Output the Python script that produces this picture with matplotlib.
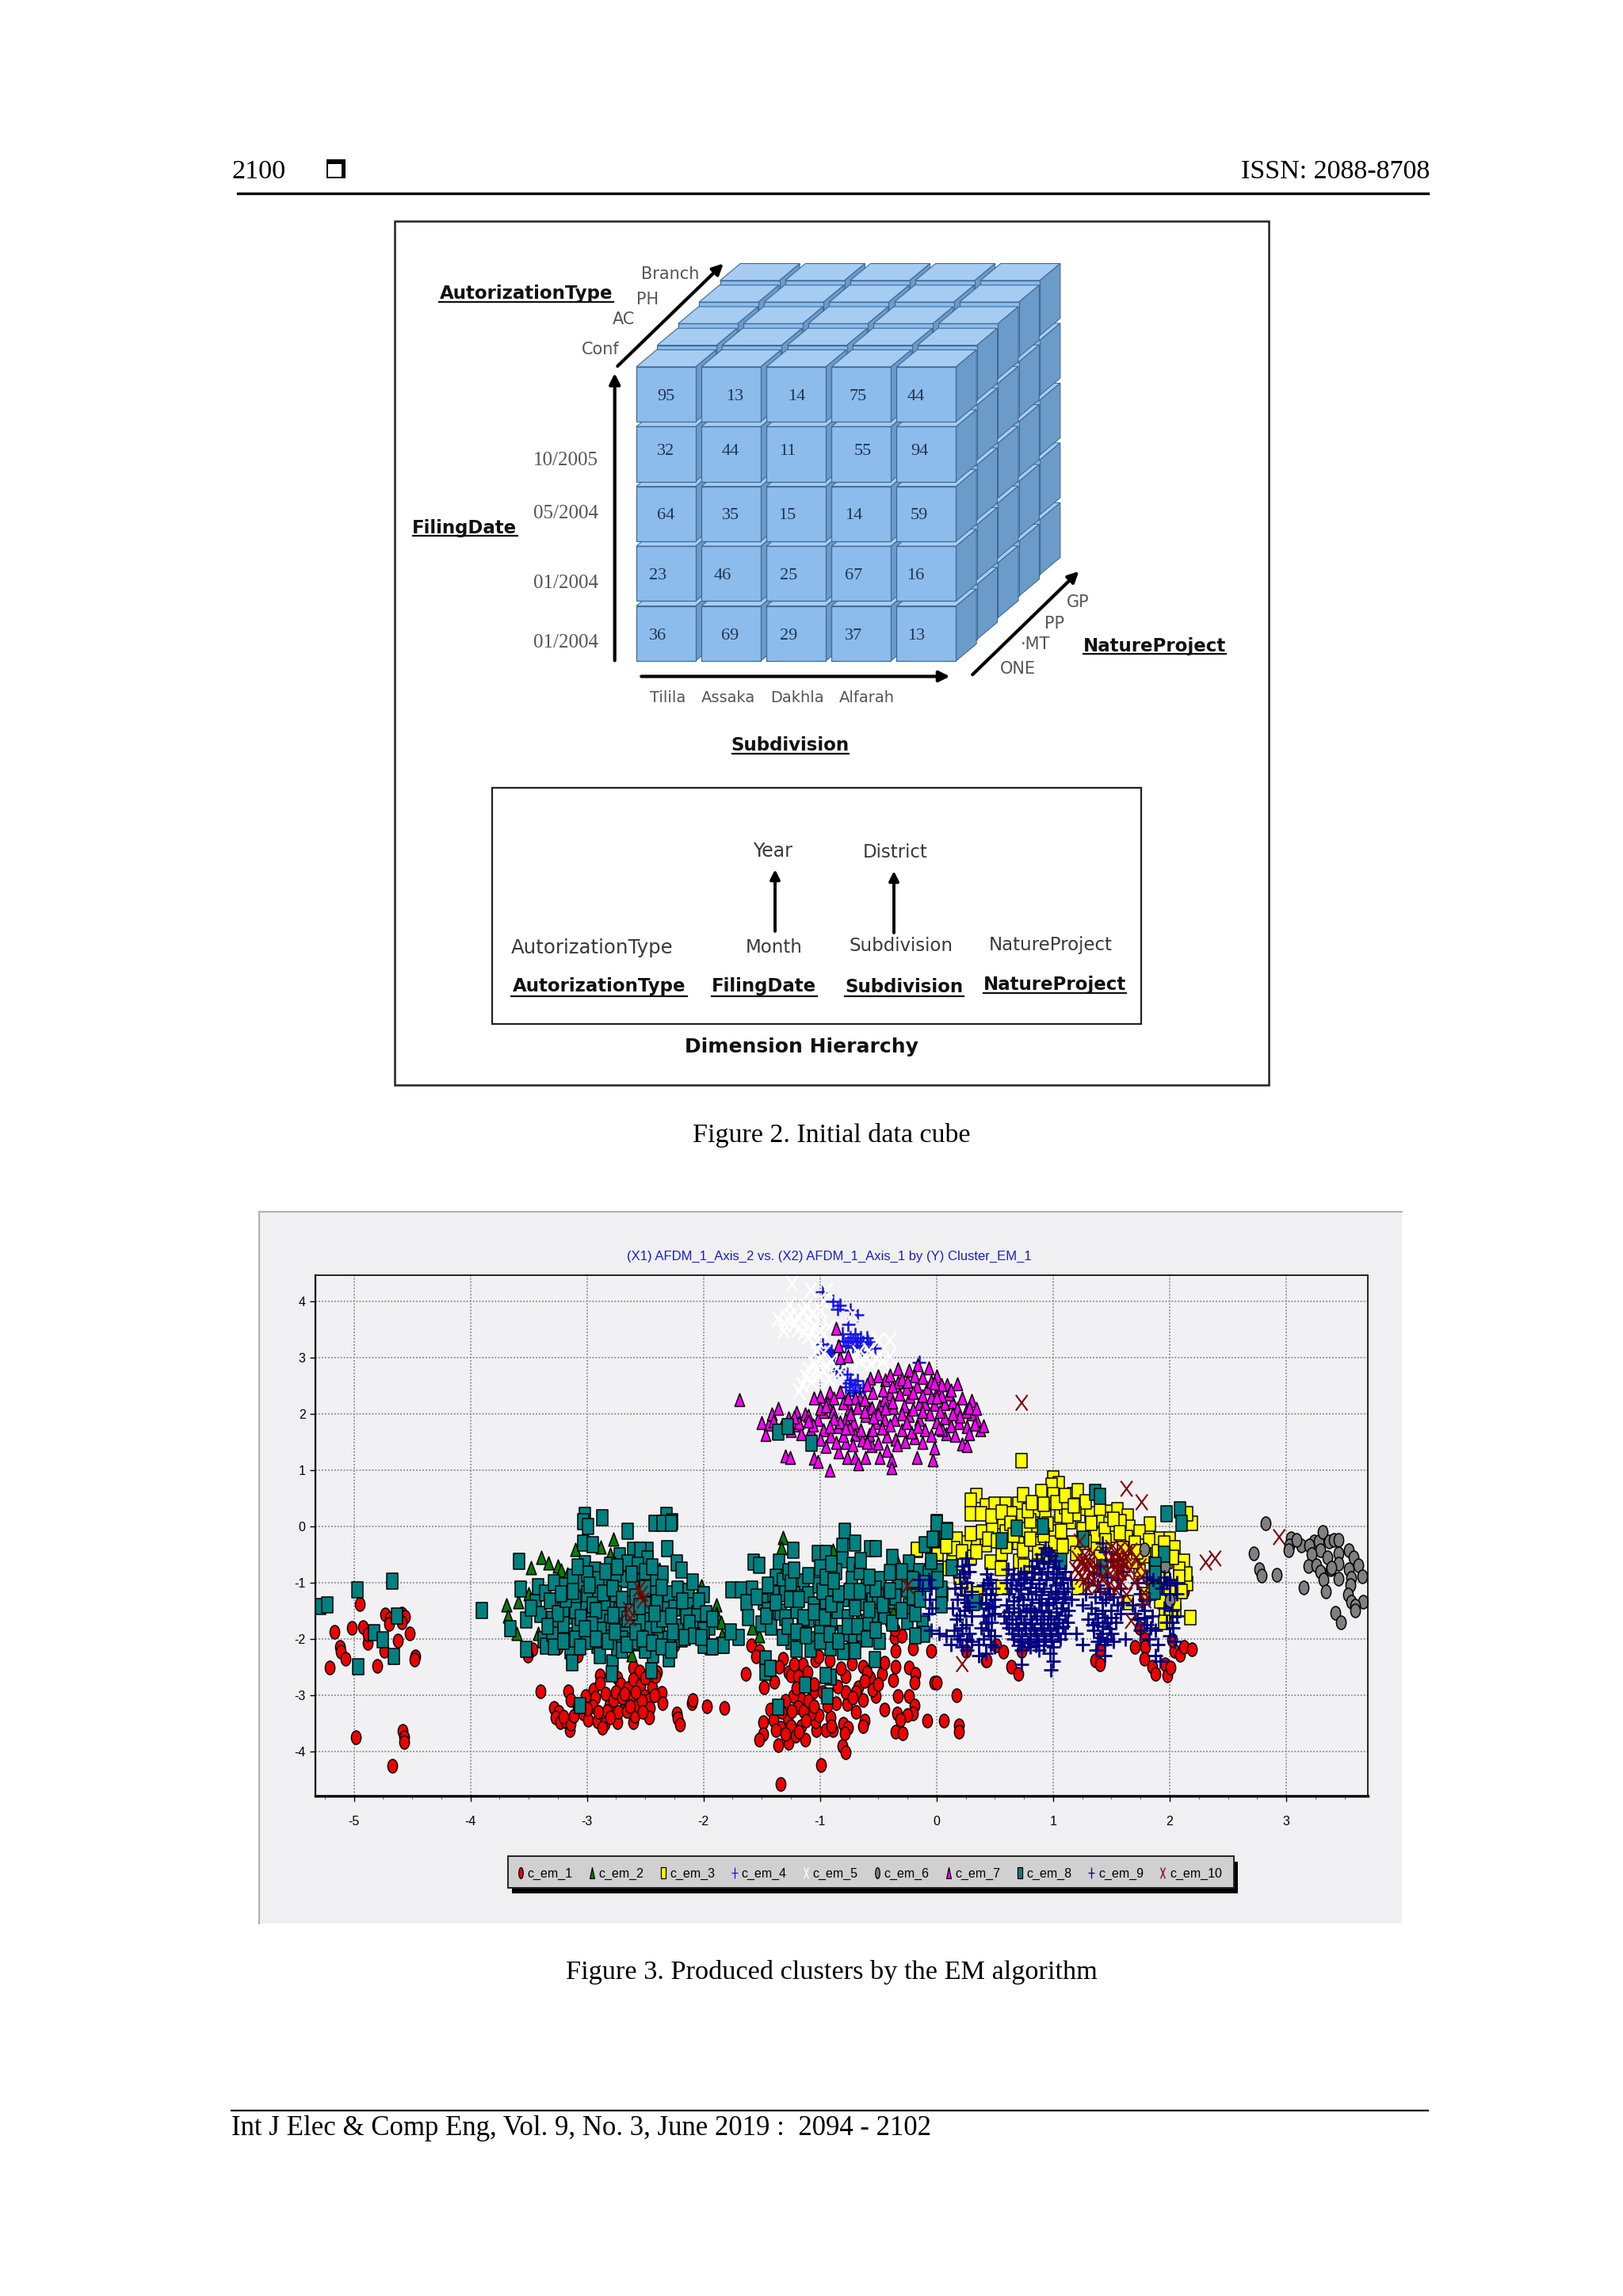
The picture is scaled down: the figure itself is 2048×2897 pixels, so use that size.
import numpy as np
import matplotlib
matplotlib.use('Agg')
import matplotlib.pyplot as plt
from matplotlib.lines import Line2D
from matplotlib.patches import Polygon, Rectangle
from matplotlib.path import Path

W, H = 2048, 2897
plt.rcParams['axes.unicode_minus'] = False

# --- figure 2: cube values and labels
cube_values = [[95, 13, 14, 75, 44],
               [32, 44, 11, 55, 94],
               [64, 35, 15, 14, 59],
               [23, 46, 25, 67, 16],
               [36, 69, 29, 37, 13]]
subdivisions = ['Tilila', 'Assaka', 'Dakhla', 'Alfarah']
dates = ['10/2005', '05/2004', '01/2004', '01/2004']
auth_types = ['Branch', 'PH', 'AC', 'Conf']
projects = ['GP', 'PP', '\u00b7MT', 'ONE']

# --- figure 3: one (x, y) list per cluster
c_em_1 = [(-4.95,-1.38),(-4.73,-1.57),(-4.69,-1.64),(-4.70,-1.74),(-4.59,-1.55),(-4.56,-1.61),(-4.59,-1.71),
 (-5.17,-1.87),(-5.02,-1.80),(-4.92,-1.79),(-4.52,-1.90),(-4.62,-2.03),(-4.88,-2.07),(-4.88,-1.92),(-5.12,-2.15),
 (-5.11,-2.23),(-5.07,-2.36),(-4.74,-2.21),(-4.47,-2.31),(-4.48,-2.37),(-4.80,-2.48),(-5.21,-2.51),(-4.98,-3.75),
 (-4.58,-3.64),(-4.57,-3.75),(-4.57,-3.83),(-4.67,-4.26),
 (-3.40,-2.94),(-3.28,-3.23),(-3.24,-3.30),(-3.27,-3.40),(-3.23,-3.49),(-3.16,-2.93),(-3.14,-3.09),(-3.18,-3.47),
 (-3.15,-3.63),(-3.14,-3.51),(-3.11,-3.37),(-3.01,-3.02),(-3.03,-3.33),(-2.99,-3.44),(-2.94,-2.91),(-2.93,-3.05),
 (-2.89,-2.65),(-2.89,-2.79),(-2.84,-2.98),(-2.91,-3.47),(-2.85,-3.51),(-2.87,-3.58),(-2.81,-3.19),(-2.77,-3.09),
 (-2.74,-2.70),(-2.71,-2.81),(-2.75,-2.95),(-2.77,-3.33),(-2.74,-3.49),(-2.67,-3.16),(-2.65,-2.88),(-2.60,-2.51),
 (-2.55,-2.58),(-2.60,-2.72),(-2.54,-2.84),(-2.60,-3.49),(-2.59,-3.37),(-2.51,-3.02),(-2.47,-3.09),(-2.46,-3.23),
 (-2.47,-3.40),(-2.44,-2.86),(-2.40,-2.60),(-2.41,-2.67),(-2.36,-2.96),(-2.35,-3.14),(-2.23,-3.33),(-2.22,-3.42),
 (-2.20,-3.53),(-2.10,-3.14),(-2.09,-3.09),(-1.97,-3.20),(-1.82,-3.23),(-2.83,-3.28),(-2.60,-3.05),(-2.73,-3.30),
 (-2.56,-3.19),(-3.47,-2.18),(-3.51,-2.30),(-3.25,-2.16),(-3.08,-2.30),(-2.25,-2.11),
 (-2.95,-3.20),(-2.90,-3.30),(-2.70,-3.05),(-2.66,-3.28),(-2.63,-3.20),(-2.53,-3.10),(-2.68,-2.98),(-2.58,-2.95),
 (-2.50,-2.70),(-3.08,-3.20),(-3.20,-3.38),(-3.00,-3.25),(-2.80,-3.40),(-2.52,-3.30),(-2.42,-3.00),
 (-1.59,-2.12),(-1.52,-2.21),(-1.55,-2.32),(-1.64,-2.63),(-1.48,-2.86),(-1.39,-2.77),(-1.32,-2.35),(-1.27,-2.60),
 (-1.25,-2.65),(-1.19,-2.67),(-1.15,-2.46),(-1.11,-2.60),(-1.04,-2.39),(-1.01,-2.32),(-0.92,-2.39),(-0.78,-2.67),
 (-0.73,-2.44),(-0.63,-2.49),(-0.57,-2.70),(-0.47,-2.63),(-0.45,-2.42),(-0.375,-2.74),(-0.35,-2.49),(-0.35,-2.21),
 (-0.36,-1.97),(-0.30,-1.94),(-0.40,-1.71),(-0.36,-1.83),(-0.20,-2.17),(-0.05,-2.22),(-0.24,-2.51),(-0.18,-2.63),
 (-0.19,-2.78),(-0.02,-2.78),(0.0,-2.78),(0.17,-3.0),(-0.33,-3.02),(-0.24,-3.02),(-0.19,-3.19),(-0.20,-3.33),
 (-0.25,-3.35),(-0.34,-3.33),(-0.31,-3.44),(-0.35,-3.65),(-0.29,-3.68),(-0.45,-3.26),(-0.08,-3.45),(0.06,-3.45),
 (0.19,-3.54),(0.19,-3.65),(-0.52,-3.02),(-0.63,-3.09),(-0.69,-3.30),(-0.62,-3.46),(-0.63,-3.56),(-0.77,-3.16),
 (-0.78,-2.95),(-0.67,-2.86),(-0.55,-2.90),(-0.69,-2.95),(-0.86,-3.14),(-0.91,-3.40),(-0.80,-3.51),(-0.76,-3.58),
 (-0.79,-3.68),(-0.89,-3.62),(-0.95,-3.62),(-1.03,-3.62),(-1.04,-3.47),(-1.01,-3.35),(-1.08,-3.33),(-1.06,-2.95),
 (-1.16,-3.07),(-1.23,-3.02),(-1.19,-3.21),(-1.14,-3.28),(-1.28,-3.40),(-1.43,-3.26),(-1.49,-3.48),(-1.40,-3.44),
 (-1.34,-3.58),(-1.25,-3.56),(-1.16,-3.56),(-1.49,-3.70),(-1.52,-3.79),(-1.36,-3.89),(-1.27,-3.85),(-1.21,-3.72),
 (-1.13,-3.79),(-0.81,-3.90),(-0.78,-4.02),(-0.99,-4.24),(-1.34,-4.59),(-0.94,-3.19),(-1.24,-3.28),(-1.38,-3.63),
 (-1.30,-3.10),(-1.10,-3.10),(-1.05,-2.80),(-0.98,-2.95),(-1.20,-2.88),(-1.12,-3.45),(-1.33,-3.30),(-0.85,-2.85),
 (-0.90,-2.70),(-0.72,-3.05),(-0.60,-2.60),(-0.50,-2.80),(-1.18,-3.65),(-1.30,-3.70),(-0.90,-3.55),(-1.05,-3.20),
 (-0.82,-2.52),(-0.62,-2.75),(-1.35,-2.50),(-1.22,-2.45),
 (0.25,-2.21),(0.42,-2.39),(0.43,-2.39),(0.64,-2.49),(0.70,-2.62),(0.73,-2.21),(0.51,-2.11),(0.57,-2.23),
 (1.36,-2.39),(1.40,-2.46),(1.70,-2.14),(1.78,-2.0),(1.79,-2.14),(1.78,-2.36),(1.85,-2.49),(1.88,-2.63),
 (1.96,-2.46),(1.98,-2.65),(2.01,-2.51),(2.04,-2.21),(2.09,-2.28),(2.12,-2.14),(2.19,-2.19),(2.02,-2.02),
 (1.74,-1.81),(1.40,-2.2),(2.12,-1.15)]

c_em_2 = [(-3.39,-0.55),(-3.48,-0.73),(-3.33,-0.65),(-3.25,-0.71),(-3.22,-0.78),(-3.17,-0.85),(-2.77,-0.23),(-2.88,-0.36),
 (-3.10,-0.41),(-2.80,-0.50),(-3.69,-1.39),(-3.68,-1.59),(-3.59,-1.34),(-3.60,-1.90),(-3.50,-1.20),(-1.89,-1.39),
 (-1.89,-1.55),(-1.85,-1.71),(-1.84,-1.93),(-2.02,-1.06),(-2.31,-1.97),(-2.29,-2.02),(-2.38,-0.76),(-2.45,-0.83),
 (-2.38,-1.13),(-2.62,-2.28),(-2.51,-2.21),(-3.42,-1.90),(-1.32,-0.20),(-1.33,-0.38),(-0.89,-0.43),(-0.34,-0.62),
 (-0.375,-1.53),(-0.68,-1.67),(-1.58,-1.81),(-1.52,-1.95)]

c_em_3 = [(0.73,1.17),(1.0,0.86),(1.05,0.76),(0.99,0.74),(0.90,0.62),(1.0,0.57),(1.17,0.57),(1.21,0.64),(0.34,0.55),
 (0.29,0.46),(0.29,0.22),(0.42,0.36),(0.50,0.39),(0.59,0.39),(0.70,0.39),(0.74,0.57),(0.86,0.29),(0.93,0.20),
 (1.06,0.20),(1.23,0.32),(1.32,0.22),(1.49,0.25),(1.55,0.29),(1.64,0.18),(1.42,0.13),(1.28,0.43),(1.65,-0.01),
 (1.83,0.04),(1.91,-0.23),(2.0,-0.22),(2.04,-0.38),(2.12,-0.62),(2.15,-1.01),(2.14,-0.85),(2.18,-1.62),(1.96,-1.55),
 (2.05,-1.50),(2.19,0.06),(2.15,0.22),(0.54,0.08),(0.71,0.18),(1.14,0.08),(0.99,-0.10),(0.70,-0.28),(0.42,-0.33),
 (0.33,-0.27),(0.25,-0.29),(0.17,-0.23),(0.39,-0.10),(0.29,-0.13),(-0.17,-0.42),(0.0,-0.50),(0.14,-0.57),(0.29,-0.55),
 (0.46,-0.64),(0.56,-0.48),(0.71,-0.62),(0.84,-0.31),(0.85,-0.01),(1.17,-0.29),(1.36,-0.38),(1.25,-0.06),(1.50,-0.15),
 (1.63,-0.20),(1.74,-0.10),(1.79,-0.52),(1.87,-0.66),(1.97,-0.62),(2.08,-0.76),(0.25,-1.11),(0.20,-0.90),(0.56,-1.08),
 (1.21,-1.08),(1.64,-1.36),(1.92,-1.32),(0.05,-1.20),(1.06,-0.62),(1.19,0.22),(0.64,0.22),(0.77,-0.06),(0.95,0.04),
 (1.37,-0.15),(1.48,0.04),(1.58,0.08),(0.59,-0.10),(0.48,-0.01),(0.87,-0.45),(1.01,-0.29),(1.79,-1.22),(1.74,-0.80),
 (2.05,-1.36),(2.08,-0.90),(1.68,-0.62),(-0.17,-0.41),(0.01,-0.48),(1.10,0.35),(0.80,0.10),(0.60,-0.35),(0.15,-0.40),
 (1.40,-0.55),(1.95,-0.95),(0.35,-1.20),(0.10,-0.75),(1.85,-1.05),(1.60,-0.40),(0.95,-0.55),
 (0.38,0.22),(0.47,0.18),(0.56,0.25),(0.63,0.05),(0.78,0.28),(0.82,0.42),(0.92,0.40),(1.03,0.42),(1.10,0.55),(1.12,0.18),
 (1.18,0.36),(1.33,0.05),(1.40,0.32),(1.44,-0.05),(1.52,0.12),(1.57,-0.12),(1.70,-0.30),(1.82,-0.25),(0.34,-0.45),
 (0.44,-0.22),(0.52,-0.25),(0.66,-0.15),(0.74,-0.42),(0.80,-0.22),(0.92,-0.15),(1.07,-0.08),(1.08,-0.35),(1.20,-0.48),
 (1.28,-0.28),(1.45,-0.25),(1.90,-0.45),(1.95,-0.30),(2.03,-0.55),(2.10,-1.15),(2.00,-1.10),(1.88,-0.85),(1.95,-1.70),
 (0.08,-0.35),(0.22,-0.45),(-0.05,-0.68),(0.55,-0.75),(0.75,-0.70),(1.55,-0.60),(1.72,-0.45)]

c_em_4 = [(-0.98,4.18),(-0.89,4.01),(-0.83,3.94),(-0.74,3.85),(-0.68,3.76),(-0.76,3.59),(-0.65,3.36),(-0.74,3.36),
 (-0.60,3.36),(-0.69,3.22),(-0.78,3.22),(-0.53,3.17),(-0.92,3.08),(-0.99,3.06),(-0.98,3.24),(-0.83,2.80),(-0.74,2.61),
 (-0.72,2.43),(-0.63,2.47),(-0.75,2.33),(-0.15,2.92),(-0.81,3.43),(-0.85,3.87),(-0.59,3.29),(-0.66,3.22),(-0.94,3.15),
 (-0.86,2.75),(-0.77,2.71),
 (-0.72,3.30),(-0.70,3.42),(-0.76,3.28),(-0.63,3.28),(-0.68,3.30),(-0.72,3.18),(-0.80,3.30),(-0.84,3.10),(-0.90,3.12),
 (-0.88,3.02),(-0.70,2.52),(-0.68,2.60),(-0.75,2.55),(-0.66,2.40),(-0.78,2.48),(-0.70,2.38),(-0.64,3.10),(-0.57,3.24)]

c_em_5 = [(-1.24,4.32),(-1.08,4.20),(-0.94,4.20),(-1.26,3.94),(-1.12,3.92),(-1.36,3.69),(-1.28,3.69),(-1.19,3.73),
 (-1.31,3.48),(-1.19,3.50),(-1.09,3.69),(-1.10,3.38),(-0.99,3.83),(-0.97,4.01),(-0.92,3.55),(-1.03,3.13),(-1.05,2.89),
 (-0.94,2.85),(-1.12,2.66),(-1.15,2.52),(-1.18,2.40),(-1.07,2.57),(-0.92,2.61),(-0.65,2.94),(-0.51,2.99),(-0.40,3.31),
 (-0.50,3.31),(-0.40,3.03),(-0.76,2.94),(-0.56,2.89),(-0.67,3.08),(-0.83,2.75),(-0.97,3.08),(-0.72,3.78),(-0.58,3.13),
 (-1.22,3.60),(-1.15,3.62),(-1.05,3.55),(-1.02,3.30),(-1.00,2.70),
 (-1.30,3.60),(-1.25,3.75),(-1.14,3.82),(-1.06,3.80),(-1.02,3.66),(-0.99,3.48),(-1.00,2.95),(-1.04,2.75),(-1.10,2.80),
 (-0.97,2.78),(-0.90,2.95),(-0.82,2.92),(-0.72,3.00),(-0.60,2.98),(-0.46,2.95),(-1.14,3.45),(-1.06,3.45)]

c_em_6 = [(2.82,0.05),(2.72,-0.48),(2.77,-0.76),(2.79,-0.87),(2.92,-0.86),(3.15,-1.08),(3.04,-0.21),(3.03,-0.34),
 (3.02,-0.43),(3.13,-0.34),(3.09,-0.24),(3.24,-0.27),(3.28,-0.27),(3.31,-0.10),(3.37,-0.27),(3.41,-0.24),(3.45,-0.24),
 (3.20,-0.34),(3.29,-0.43),(3.22,-0.50),(3.35,-0.55),(3.45,-0.48),(3.54,-0.43),(3.58,-0.55),(3.62,-0.69),(3.19,-0.70),
 (3.26,-0.69),(3.29,-0.81),(3.32,-0.95),(3.38,-0.76),(3.45,-0.66),(3.45,-0.93),(3.34,-1.15),(3.54,-0.76),(3.56,-0.92),
 (3.65,-0.89),(3.55,-1.04),(3.53,-1.21),(3.56,-1.34),(3.66,-1.34),(3.59,-1.41),(3.59,-1.50),(3.42,-1.54),(3.47,-1.70),
 (3.39,-0.74),(1.78,-0.41),(1.81,-0.92),(1.96,-0.71),(2.0,-1.31)]

c_em_7 = [(-1.69,2.25),(-0.86,3.52),(-0.83,3.01),(-0.76,3.03),(-0.84,3.22),(-1.50,1.84),(-1.44,1.82),(-1.47,1.64),
 (-1.41,2.0),(-1.36,2.10),(-1.27,1.93),(-1.20,2.03),(-1.13,2.0),(-1.10,1.98),(-1.16,1.65),(-1.30,1.26),(-1.26,1.23),
 (-1.05,1.21),(-1.02,1.16),(-0.92,1.0),(-0.84,1.33),(-0.77,1.23),(-0.70,1.23),(-0.67,1.12),(-0.61,1.23),(-0.49,1.23),
 (-0.39,1.19),(-0.39,1.05),(-0.43,1.35),(-0.56,1.44),(-0.17,1.22),(-0.03,1.19),(-0.02,1.40),(0.22,1.47),(0.26,1.44),
 (0.08,1.65),(0.375,1.72),(0.40,1.79),(0.34,1.91),(0.30,2.24),(0.18,2.54),(0.09,2.52),(0.0,2.68),(-0.07,2.82),
 (-0.16,2.87),(-0.24,2.78),(-0.33,2.80),(-0.44,2.61),(-0.57,2.64),(-0.50,2.68),(-0.55,2.38),(-0.66,2.29),(-0.70,2.29),
 (-0.83,2.40),(-0.92,2.38),(-1.0,2.31),(-1.05,2.29),(-0.97,2.05),(-0.89,2.05),(-1.02,1.91),(-0.97,1.72),(-0.91,1.61),
 (-0.85,1.77),(-0.78,1.91),(-0.71,1.84),(-0.61,1.98),(-0.45,1.91),(-0.36,1.91),(-0.24,1.98),(-0.10,1.72),(-0.27,1.51),
 (-0.19,1.58),(-0.43,1.61),(-0.58,1.63),(-0.70,1.63),(-0.64,1.54),(-0.78,1.49),(-0.95,1.42),(-0.40,2.36),(-0.23,2.31),
 (-0.33,2.57),(-0.17,2.50),(-0.19,2.68),(0.01,2.43),(-0.02,2.17),(0.07,2.19),(0.14,2.21),(0.18,2.10),(0.07,1.93),
 (0.19,1.84),(0.12,1.79),(0.0,1.86),(0.26,1.77),(-0.375,2.12),(-0.49,2.14),(-0.15,2.19),(-0.10,2.19),(0.30,2.0),
 (-0.08,2.47),(-0.28,2.14),(-0.58,2.10),(-0.83,1.86),(-1.08,1.72),(-1.22,1.80),(-0.52,1.85),(-0.30,1.72),(-0.15,1.90),
 (0.10,2.35),(0.25,2.05),(-0.45,2.25),(-0.75,2.10),(-0.55,1.72),(-0.38,2.50),(-0.80,1.62),(0.03,2.05),
 (-1.40,1.88),(-1.33,1.78),(-1.25,1.70),(-1.18,1.85),(-1.06,1.80),(-1.00,2.10),(-0.94,2.20),(-0.88,2.28),(-0.80,2.20),
 (-0.74,2.00),(-0.68,2.12),(-0.62,2.25),(-0.56,2.12),(-0.50,2.00),(-0.44,2.10),(-0.38,2.22),(-0.32,2.35),(-0.26,2.45),
 (-0.20,2.38),(-0.12,2.32),(-0.05,2.30),(0.04,2.32),(0.12,2.42),(0.22,2.28),(0.28,2.12),(0.34,2.10),(0.20,1.96),
 (0.14,2.00),(0.05,1.72),(-0.06,2.00),(-0.12,2.05),(-0.20,2.08),(-0.30,2.00),(-0.40,1.80),(-0.47,1.75),(-0.54,1.95),
 (-0.65,1.72),(-0.75,1.75),(-0.88,1.92),(-0.92,1.78),(-1.00,1.55),(-0.86,1.50),(-0.72,1.45),(-0.60,1.50),(-0.50,1.48),
 (-0.35,1.55),(-0.22,1.68),(-0.12,1.50),(-0.05,1.62),(0.02,1.75),(0.16,1.62),(0.28,1.65),(0.33,1.82),(-0.30,2.62),
 (-0.25,2.58),(-0.12,2.65),(-0.05,2.58),(0.04,2.52),(-0.40,2.70),(-0.46,2.42),(-0.60,2.52),(-0.76,2.28),(-0.95,2.15),
 (-1.10,1.88),(-1.22,1.95),(0.00,2.30),(-0.02,2.55),(-0.26,1.85),(-0.16,1.78),(-0.34,1.45),(-0.62,2.05),(-0.78,1.75)]

c_em_8 = [(-5.29,-1.43),(-5.23,-1.39),(-4.97,-1.13),(-4.67,-0.98),(-4.63,-1.59),(-4.83,-1.89),(-4.75,-2.02),(-4.66,-2.31),
 (-4.96,-2.50),(-3.90,-1.50),
 (-3.02,0.20),(-3.03,0.09),(-2.87,0.16),(-2.99,0.0),(-2.32,0.2),(-2.42,0.06),(-2.35,0.06),(-2.27,0.08),(-2.28,0.06),
 (-2.65,-0.09),(-3.03,-0.29),(-2.95,-0.33),(-2.31,-0.39),(-2.23,-0.65),(-2.19,-0.78),(-2.6,-0.43),(-2.48,-0.43),
 (-2.54,-0.43),(-2.48,-0.58),(-2.72,-0.52),(-3.02,-0.66),(-2.93,-0.78),(-2.80,-0.69),(-2.65,-0.65),(-2.56,-0.69),
 (-2.35,-0.85),(-3.58,-0.62),(-3.57,-1.11),
 (-3.66,-1.82),(-3.52,-2.18),(-3.52,-1.67),(-3.37,-2.02),(-3.35,-2.13),(-3.44,-1.36),(-3.42,-1.07),(-3.36,-1.18),
 (-3.40,-1.57),(-3.25,-1.32),(-3.19,-1.06),(-3.06,-0.99),(-3.23,-1.86),(-3.14,-2.21),(-3.13,-2.42),(-3.14,-1.60),
 (-3.13,-1.95),(-3.03,-1.46),(-2.98,-1.93),(-2.91,-2.11),(-2.89,-2.30),(-2.78,-2.42),(-2.79,-2.63),(-2.96,-1.60),
 (-2.90,-1.18),(-2.83,-0.99),(-2.81,-1.46),(-2.85,-1.92),(-2.74,-2.16),(-2.67,-1.81),(-2.65,-1.36),(-2.69,-0.94),
 (-2.57,-0.99),(-2.44,-0.99),(-2.44,-1.20),(-2.49,-1.60),(-2.49,-1.83),(-2.57,-2.07),(-2.45,-2.56),(-2.43,-2.28),
 (-2.30,-2.35),(-2.38,-1.92),(-2.34,-1.46),(-2.30,-1.20),(-2.21,-1.25),(-2.13,-1.15),(-2.09,-0.99),(-2.0,-1.22),
 (-2.20,-1.79),(-2.13,-1.86),(-2.06,-1.69),(-1.95,-1.79),(-1.94,-2.14),(-1.84,-2.11),(-2.0,-2.11),(-2.19,-2.0),
 (-2.10,-1.41),(-3.06,-3.19),(-3.2,-1.5),(-3.1,-1.3),(-3.0,-1.2),(-2.95,-1.4),(-2.87,-1.6),(-2.75,-1.2),(-2.72,-1.5),
 (-2.6,-1.1),(-2.55,-1.7),(-2.7,-2.0),(-2.8,-1.7),(-3.08,-1.75),(-3.2,-1.75),(-3.0,-2.05),(-2.6,-2.05),(-2.5,-2.2),
 (-2.4,-1.75),(-2.35,-1.65),(-2.25,-1.45),(-2.15,-1.6),(-2.05,-1.55),(-2.0,-1.85),(-2.3,-2.0),(-2.9,-0.95),(-3.0,-0.85),
 (-2.75,-0.85),(-2.62,-0.85),(-2.5,-0.8),(-3.12,-0.9),(-3.28,-1.0),(-2.4,-1.35),(-2.85,-1.35),(-2.65,-1.65),(-3.3,-1.9),
 (-3.1,-2.0),(-2.88,-1.85),(-2.7,-2.2),(-2.5,-1.4),(-3.3,-1.65),(-3.1,-1.5),(-2.58,-1.25),
 (-3.32,-1.32),(-3.25,-1.55),(-3.18,-1.30),(-3.12,-1.15),(-3.05,-1.62),(-2.98,-1.05),(-2.92,-1.50),(-2.86,-1.18),
 (-2.78,-1.10),(-2.77,-1.58),(-2.70,-1.30),(-2.62,-1.52),(-2.55,-1.42),(-2.50,-1.10),(-2.42,-1.55),(-2.36,-1.08),
 (-2.28,-1.60),(-2.22,-1.12),(-2.18,-1.32),(-2.12,-1.72),(-2.04,-1.32),(-1.98,-1.55),(-1.92,-1.65),(-3.28,-2.15),
 (-3.20,-2.05),(-3.06,-2.15),(-2.96,-1.75),(-2.92,-2.00),(-2.82,-2.05),(-2.76,-1.88),(-2.66,-2.10),(-2.58,-1.88),
 (-2.52,-2.00),(-2.44,-2.08),(-2.36,-2.14),(-2.26,-1.88),(-2.28,-2.20),(-2.16,-1.98),(-2.08,-1.95),(-2.02,-1.98),
 (-3.48,-1.45),(-3.34,-1.78),(-3.22,-1.20),(-3.02,-1.82),(-2.84,-0.80),(-3.08,-0.72),(-2.74,-0.72),(-2.44,-0.72),
 (-0.79,-0.08),(-0.81,-0.35),(-0.70,-0.29),(-1.57,-0.64),(-1.52,-0.69),(-1.35,-0.64),(-1.23,-0.42),(-1.02,-0.48),
 (-0.95,-0.48),(-0.81,-0.59),(-0.72,-0.69),(-0.57,-0.39),(-0.52,-0.39),(-0.38,-0.55),(-0.24,-0.65),(-0.10,-0.33),
 (-0.02,-0.24),(0.0,0.07),(0.09,-0.07),(-1.76,-1.13),(-1.68,-1.13),(-1.58,-1.11),(-1.63,-1.36),(-1.48,-1.34),
 (-1.62,-1.62),(-1.50,-1.74),(-1.42,-1.79),(-1.34,-1.53),(-1.38,-0.90),(-1.32,-0.97),(-1.27,-0.80),(-1.14,-0.99),
 (-1.22,-1.22),(-1.10,-1.22),(-1.01,-1.04),(-1.0,-0.73),(-0.86,-0.80),(-0.73,-0.94),(-0.95,-1.32),(-0.80,-1.29),
 (-0.60,-1.08),(-0.48,-0.94),(-0.33,-0.97),(-0.15,-0.80),(-0.07,-0.84),(0.01,-0.80),(0.04,-1.11),(-0.25,-1.11),
 (-0.14,-1.15),(-0.55,-1.32),(-0.41,-1.32),(-0.24,-1.43),(-0.25,-1.69),(-0.12,-1.74),(-0.11,-1.92),(-0.18,-1.95),
 (-0.55,-1.60),(-0.72,-1.93),(-0.64,-1.90),(-0.49,-2.04),(-0.70,-2.21),(-0.80,-2.23),(-0.91,-2.16),(-1.05,-2.02),
 (-0.99,-1.76),(-0.90,-1.71),(-1.15,-1.79),(-1.24,-2.04),(-1.32,-1.97),(-1.20,-2.18),(-1.08,-2.18),(-1.47,-2.35),
 (-1.47,-2.60),(-1.43,-2.53),(-0.91,-2.68),(-0.95,-2.65),(-1.13,-2.82),(-0.94,-3.02),(-1.36,-3.21),(-0.53,-2.37),
 (-1.70,-1.98),(-1.83,-2.11),(-1.77,-1.88),(-1.92,-2.14),(-1.3,-1.2),(-1.2,-1.5),(-1.05,-1.4),(-0.9,-1.1),(-0.75,-1.15),
 (-0.65,-1.35),(-0.6,-1.7),(-0.85,-1.5),(-1.1,-1.65),(-1.0,-1.9),(-0.8,-1.9),(-0.5,-1.25),(-0.35,-1.25),(-0.45,-1.6),
 (-1.4,-1.2),(-1.45,-1.5),(-1.25,-1.0),
 (-1.54,-1.25),(-1.46,-1.60),(-1.38,-1.36),(-1.30,-1.62),(-1.26,-1.30),(-1.18,-1.30),(-1.14,-1.62),(-1.05,-1.52),
 (-0.98,-1.15),(-0.96,-1.62),(-0.90,-1.38),(-0.84,-1.20),(-0.76,-1.62),(-0.70,-1.45),(-0.66,-1.15),(-0.58,-1.48),
 (-0.52,-1.12),(-0.46,-1.40),(-0.40,-1.14),(-0.38,-1.72),(-0.30,-1.50),(-0.20,-1.25),(-0.18,-1.55),(-0.10,-1.02),
 (-1.28,-1.78),(-1.20,-1.88),(-1.12,-1.95),(-1.00,-2.05),(-0.92,-1.92),(-0.84,-2.05),(-0.76,-1.78),(-0.68,-1.78),
 (-0.60,-2.00),(-0.52,-1.85),(-1.10,-0.88),(-0.95,-0.90),(-0.88,-0.98),(-0.66,-0.80),(-0.58,-0.90),(-0.40,-0.82),
 (-1.22,-0.78),(-0.90,-0.66),(-0.65,-0.60),(-0.30,-0.80),(-1.45,-1.05),(-0.20,-0.95),
 (-1.36,1.68),(-1.28,1.77),(-1.07,1.48),
 (1.36,0.60),(1.40,0.53),(1.97,0.22),(2.09,0.29),(2.10,0.06),(0.0,0.06),(0.09,-0.08),(-0.03,-0.22),(0.91,0.0),
 (0.69,-0.03),(0.56,-0.26),(1.26,-0.22),(1.95,-0.49),(1.88,-0.69),(1.88,-0.85),(1.87,-1.15),(-0.05,-0.62),(0.01,-0.95),
 (0.04,-1.40),(-0.14,-1.30),(0.13,-0.73),(1.07,-0.62),(1.42,-0.73),(0.32,-1.36)]

c_em_9 = [(0.25,-0.57),(0.22,-0.7),(0.28,-0.8),(0.2,-0.9),(0.26,-1.0),(0.16,-1.1),(0.3,-1.15),(0.18,-1.3),(0.26,-1.35),
 (0.14,-1.45),(0.24,-1.5),(0.3,-1.6),(0.17,-1.65),(0.25,-1.75),(0.15,-1.85),(0.28,-1.9),(0.2,-2.0),(0.3,-2.05),
 (0.12,-2.1),(0.26,-2.2),(0.36,-2.3),(0.22,-2.15),
 (0.23,-0.85),(0.27,-0.68),(0.21,-1.08),(0.24,-1.22),(0.28,-1.42),(0.20,-1.58),(0.22,-1.80),(0.26,-2.02),(0.18,-1.95),
 (0.43,-0.85),(0.46,-0.95),(0.4,-1.05),(0.48,-1.1),(0.42,-1.2),(0.5,-1.3),(0.38,-1.35),(0.45,-1.45),(0.5,-1.55),
 (0.4,-1.6),(0.47,-1.7),(0.38,-1.8),(0.44,-1.85),(0.5,-1.95),(0.4,-2.0),(0.46,-2.1),(0.36,-2.1),(0.5,-2.15),(0.42,-2.25),
 (0.44,-1.00),(0.46,-1.22),(0.42,-1.38),(0.44,-1.58),(0.42,-1.72),(0.46,-1.95),(0.48,-1.42),
 (0.61,-0.76),(0.66,-0.85),(0.72,-0.85),(0.75,-0.8),(0.82,-0.7),(0.86,-0.6),(0.9,-0.5),(0.93,-0.38),(0.96,-0.45),
 (0.98,-0.52),(1.02,-0.6),(1.05,-0.75),(1.1,-0.8),(1.15,-0.95),(0.6,-1.0),(0.68,-1.05),(0.75,-1.0),(0.82,-0.95),
 (0.9,-0.85),(0.95,-0.8),(1.0,-0.9),(1.06,-1.0),(1.12,-1.1),(0.62,-1.2),(0.7,-1.25),(0.78,-1.2),(0.85,-1.15),(0.92,-1.1),
 (0.98,-1.15),(1.04,-1.2),(1.1,-1.25),(1.16,-1.3),(0.6,-1.4),(0.66,-1.45),(0.74,-1.4),(0.8,-1.45),(0.88,-1.35),
 (0.94,-1.4),(1.0,-1.35),(1.07,-1.45),(1.13,-1.5),(0.58,-1.6),(0.65,-1.65),(0.72,-1.6),(0.8,-1.65),(0.86,-1.6),
 (0.92,-1.65),(0.98,-1.6),(1.05,-1.65),(1.12,-1.7),(0.62,-1.8),(0.7,-1.85),(0.76,-1.8),(0.84,-1.85),(0.9,-1.8),
 (0.97,-1.85),(1.03,-1.8),(1.1,-1.9),(0.66,-2.0),(0.72,-2.05),(0.8,-2.0),(0.87,-2.05),(0.93,-2.0),(0.99,-2.05),
 (1.06,-2.0),(0.73,-2.2),(0.8,-2.15),(0.88,-2.2),(0.97,-2.25),(1.0,-2.4),(0.98,-2.55),(0.73,-2.45),
 (0.64,-0.95),(0.70,-0.95),(0.77,-0.90),(0.84,-0.82),(0.88,-0.75),(0.92,-0.65),(0.96,-0.62),(1.00,-0.72),(1.03,-0.85),
 (1.08,-0.92),(0.64,-1.10),(0.72,-1.12),(0.80,-1.08),(0.88,-1.02),(0.94,-0.95),(1.02,-1.05),(1.09,-1.15),(0.66,-1.32),
 (0.74,-1.30),(0.82,-1.30),(0.90,-1.22),(0.96,-1.28),(1.02,-1.28),(1.08,-1.35),(0.62,-1.52),(0.70,-1.52),(0.77,-1.50),
 (0.84,-1.52),(0.90,-1.50),(0.96,-1.52),(1.03,-1.52),(1.10,-1.58),(0.60,-1.72),(0.68,-1.74),(0.75,-1.70),(0.82,-1.74),
 (0.89,-1.72),(0.95,-1.74),(1.01,-1.72),(1.08,-1.78),(0.65,-1.90),(0.73,-1.94),(0.80,-1.90),(0.86,-1.94),(0.92,-1.90),
 (0.98,-1.95),(1.04,-1.90),(0.70,-2.12),(0.78,-2.08),(0.85,-2.12),(0.92,-2.12),(1.00,-2.15),
 (1.42,-0.3),(1.45,-0.45),(1.5,-0.6),(1.4,-0.7),(1.55,-0.7),(1.6,-0.8),(1.35,-0.85),(1.46,-0.9),(1.55,-0.95),(1.3,-1.0),
 (1.38,-1.05),(1.47,-1.1),(1.58,-1.1),(1.28,-1.2),(1.36,-1.25),(1.45,-1.3),(1.52,-1.25),(1.6,-1.35),(1.25,-1.4),
 (1.33,-1.45),(1.42,-1.5),(1.5,-1.5),(1.58,-1.55),(1.3,-1.65),(1.38,-1.7),(1.46,-1.7),(1.54,-1.7),(1.35,-1.85),
 (1.42,-1.9),(1.5,-1.9),(1.38,-2.05),(1.44,-2.1),(1.52,-2.05),(1.37,-2.2),(1.44,-2.3),(1.2,-1.9),(1.25,-2.1),(1.62,-2.0),
 (1.40,-1.15),(1.42,-1.35),(1.48,-1.20),(1.55,-1.40),(1.36,-1.55),(1.44,-1.62),(1.50,-1.62),(1.34,-1.75),(1.42,-1.78),
 (1.48,-1.82),(1.40,-1.98),(1.46,-2.00),
 (1.72,-1.0),(1.8,-0.9),(1.86,-0.95),(1.95,-0.9),(2.0,-0.95),(2.06,-1.0),(1.75,-1.2),(1.82,-1.3),(1.93,-1.1),(2.0,-1.2),
 (2.06,-1.2),(1.68,-1.4),(1.78,-1.5),(1.85,-1.6),(1.72,-1.65),(1.95,-1.45),(2.02,-1.5),(2.06,-1.6),(1.8,-1.75),
 (1.88,-1.85),(1.75,-1.85),(1.97,-1.7),(2.03,-1.8),(1.82,-2.0),(1.9,-2.1),(2.0,-1.95),(2.04,-2.05),(1.88,-2.3),
 (1.92,-2.4),(2.02,-1.7),(2.00,-1.05),(1.97,-1.00),(1.78,-1.62),(1.84,-1.80),(1.76,-1.38),(1.70,-1.55),
 (-0.05,-1.85),(0.02,-1.9),(0.08,-1.95),(-0.15,-0.95),(-0.12,-1.1),(-0.07,-0.95),(-0.05,-1.1),(-0.06,-1.3),(-0.04,-1.45),
 (-0.07,-1.55)]

c_em_10 = [(1.63,0.67),(1.76,0.43),(2.31,-0.64),(2.39,-0.57),(2.94,-0.19),(0.22,-2.45),(1.67,-1.68),(-0.25,-1.06),
 (1.23,-0.27),(0.73,2.2),(1.21,-0.57),(1.27,-0.71),(1.19,-0.76),(1.34,-0.48),(1.37,-0.71),(1.32,-0.85),(1.24,-0.90),
 (1.29,-1.08),(1.38,-1.08),(1.48,-1.04),(1.46,-0.80),(1.51,-0.52),(1.50,-0.38),(1.58,-0.38),(1.59,-0.64),(1.55,-0.85),
 (1.54,-1.13),(1.59,-0.99),(1.67,-0.43),(1.71,-0.57),(1.75,-0.71),(1.66,-0.76),(1.70,-0.99),(1.78,-1.18),(1.79,-1.32),
 (1.76,-0.90),(1.63,-0.57),(1.42,-0.93),(1.54,-0.71),(1.27,-0.52),(1.31,-0.66),(1.34,-0.99),(1.63,-1.22),(1.48,-0.62),
 (1.24,-0.65),(1.22,-0.82),(1.27,-0.95),(1.30,-0.75),(1.30,-0.60),(1.35,-0.78),(1.26,-0.62),(1.55,-0.45),(1.56,-0.55),
 (1.53,-0.62),(1.60,-0.75),(1.58,-0.82),(1.52,-0.92),(1.56,-1.03),(1.62,-0.48),(1.55,-0.78),(1.60,-0.62),
 (-2.63,-1.64),(-2.64,-1.48),(-2.53,-1.20),(-2.52,-1.32),(-2.55,-1.11)]

x_ticks = [-5, -4, -3, -2, -1, 0, 1, 2, 3]
y_ticks = [-4, -3, -2, -1, 0, 1, 2, 3, 4]
legend_names = ['c_em_1', 'c_em_2', 'c_em_3', 'c_em_4', 'c_em_5', 'c_em_6', 'c_em_7', 'c_em_8', 'c_em_9', 'c_em_10']


def scaled(path, sx, sy):
    return Path(path.vertices * [sx, sy], path.codes)


CIRCLE = Path.unit_circle()
SQUARE = Path([(-1, -1), (1, -1), (1, 1), (-1, 1), (-1, -1)], closed=True)
TRI = Path([(-1, -1), (1, -1), (0, 1), (-1, -1)], closed=True)
PLUS = Path([(0, -1), (0, 1), (-1, 0), (1, 0)], [Path.MOVETO, Path.LINETO, Path.MOVETO, Path.LINETO])
CROSS = Path([(-1, -1), (1, 1), (-1, 1), (1, -1)], [Path.MOVETO, Path.LINETO, Path.MOVETO, Path.LINETO])


def px_rect(x, y, w, h):
    return [x / W, 1 - (y + h) / H, w / W, h / H]


fig = plt.figure(figsize=(W / 100, H / 100), dpi=100, facecolor='white')

# page layer, coordinates are image pixels
page = fig.add_axes([0, 0, 1, 1], zorder=0)
page.set_xlim(0, W)
page.set_ylim(H, 0)
page.axis('off')

SERIF = 'Liberation Serif'
page.text(292, 217, '2100', family=SERIF, fontsize=24.7, va='center')
page.add_patch(Rectangle((413, 203), 20, 21, fc='white', ec='black', lw=1.4))
page.add_patch(Polygon([(412, 201), (436, 201), (436, 225), (431, 225), (431, 207), (412, 207)], fc='black', ec='none'))
page.text(1804, 217, 'ISSN: 2088-8708', family=SERIF, fontsize=24.5, va='center', ha='right')
page.plot([300, 1802], [244, 244], color='black', lw=2.4)
page.text(1049, 1432, 'Figure 2. Initial data cube', family=SERIF, fontsize=24.5, va='center', ha='center')
page.text(1049, 2488, 'Figure 3. Produced clusters by the EM algorithm', family=SERIF, fontsize=24.7, va='center', ha='center')
page.plot([292, 1802], [2663, 2663], color='black', lw=1.6)
page.text(292, 2685, 'Int J Elec & Comp Eng, Vol. 9, No. 3, June 2019 :  2094 - 2102', family=SERIF, fontsize=25, va='center')

# outer frame of figure 2 and the hierarchy box
page.add_patch(Rectangle((498, 279), 1103, 1090, fc='white', ec='#222222', lw=1.8))
page.add_patch(Rectangle((621, 994), 819, 298, fc='white', ec='#222222', lw=1.6))

PLAIN = dict(family='DejaVu Sans', color='#3a3a3a', va='center', ha='center')
BOLD = dict(family='DejaVu Sans', color='#111111', va='center', ha='center', fontweight='bold')
page.text(975, 1074, 'Year', fontsize=17, **PLAIN)
page.text(1130, 1076, 'District', fontsize=16.5, **PLAIN)
page.text(747, 1196, 'AutorizationType', fontsize=17.6, **PLAIN)
page.text(977, 1196, 'Month', fontsize=16.5, **PLAIN)
page.text(1137, 1194, 'Subdivision', fontsize=16.5, **PLAIN)
page.text(1326, 1193, 'NatureProject', fontsize=16.5, **PLAIN)
for name, cx, cy, x0, x1, uy in [('AutorizationType', 756, 1245, 645, 867, 1257),
                                 ('FilingDate', 964, 1245, 898, 1031, 1257),
                                 ('Subdivision', 1141, 1245, 1066, 1216, 1257),
                                 ('NatureProject', 1331, 1242, 1241, 1421, 1253)]:
    page.text(cx, cy, name, fontsize=16.5, **BOLD)
    page.plot([x0, x1], [uy, uy], color='#111111', lw=1.6)
page.text(1011, 1321, 'Dimension Hierarchy', fontsize=18, **BOLD)
for ax_x, y0, y1 in [(978, 1175, 1097), (1128, 1177, 1099)]:
    page.annotate('', xy=(ax_x, y1), xytext=(ax_x, y0),
                  arrowprops=dict(arrowstyle='-|>', color='black', lw=2.8, mutation_scale=18, shrinkA=0, shrinkB=0))

# grey panel of figure 3 and the legend box
page.add_patch(Rectangle((327, 1529), 1442, 898, fc='#f0f0f2', ec='none'))
page.plot([327, 1769], [1529, 1529], color='#b0b0b0', lw=1.5)
page.plot([327, 327], [1529, 2427], color='#b0b0b0', lw=1.5)
page.add_patch(Rectangle((646, 2349), 916, 40, fc='black', ec='none'))
page.add_patch(Rectangle((641, 2342), 916, 40, fc='#d0d0d0', ec='#222222', lw=1.4))
page.text(1046, 1585, '(X1) AFDM_1_Axis_2 vs. (X2) AFDM_1_Axis_1 by (Y) Cluster_EM_1',
          family='Liberation Sans', fontsize=12, color='#1c1cc8', va='center', ha='center')

# cube layer, coordinates come from a 1568 x 1568 view of the frame region
cube = fig.add_axes(px_rect(490, 270, 1120, 700), zorder=1)
cube.set_xlim(0, 1568)
cube.set_ylim(1568, 0)
cube.axis('off')
cw, ch = 105, 155
ddx, ddy = 36, -48
for d in range(4, -1, -1):
    for c in range(5):
        for r in range(4, -1, -1):
            x = 438 + 115 * c + 37 * d
            y = 432 + 169 * r - 61 * d
            cube.add_patch(Polygon([(x, y), (x + ddx, y + ddy), (x + cw + ddx, y + ddy), (x + cw, y)],
                                   fc='#a6ccf2', ec='#3f6a96', lw=0.8))
            cube.add_patch(Polygon([(x + cw, y), (x + cw + ddx, y + ddy), (x + cw + ddx, y + ch + ddy), (x + cw, y + ch)],
                                   fc='#6b9bc9', ec='#3f6a96', lw=0.8))
            cube.add_patch(Rectangle((x, y), cw, ch, fc='#8bbcec', ec='#3f6a96', lw=0.9))

label_x = [[490, 612, 722, 830, 932], [490, 605, 705, 838, 938], [490, 605, 705, 822, 938],
           [476, 590, 707, 822, 932], [476, 603, 707, 822, 932]]
label_y = [517, 670, 852, 1023, 1192]
for r, row in enumerate(cube_values):
    for c, v in enumerate(row):
        cube.text(label_x[r][c], label_y[r], str(v), family=SERIF, fontsize=16, color='#22344e', ha='center', va='center')

GREY = dict(family='DejaVu Sans', color='#555555', ha='center', va='center', fontsize=15)
for s, p in zip(auth_types, [(498, 170), (458, 242), (416, 298), (375, 382)]):
    cube.text(p[0], p[1], s, **GREY)
for s, p in zip(projects, [(1218, 1097), (1176, 1158), (1143, 1216), (1112, 1285)]):
    cube.text(p[0], p[1], s, **GREY)
for s, p in zip(subdivisions, [(493, 1368), (600, 1368), (722, 1368), (845, 1368)]):
    cube.text(p[0], p[1], s, fontsize=14, **{k: v for k, v in GREY.items() if k != 'fontsize'})
for s, y in zip(dates, [697, 847, 1043, 1212]):
    cube.text(314, y, s, family=SERIF, color='#555555', fontsize=18, ha='center', va='center')
for name, cx, cy, x0, x1, uy in [('AutorizationType', 244, 225, 90, 398, 248),
                                 ('FilingDate', 135, 888, 43, 228, 910),
                                 ('NatureProject', 1354, 1222, 1228, 1480, 1243),
                                 ('Subdivision', 710, 1503, 607, 813, 1525)]:
    cube.text(cx, cy, name, fontsize=16.5, **BOLD)
    cube.plot([x0, x1], [uy, uy], color='#111111', lw=1.6)
for start, end in [((400, 1262), (400, 450)), ((447, 1307), (992, 1307)),
                   ((405, 430), (592, 140)), ((1032, 1302), (1220, 1010))]:
    cube.annotate('', xy=end, xytext=start,
                  arrowprops=dict(arrowstyle='-|>', color='black', lw=3, mutation_scale=20, shrinkA=0, shrinkB=0))

# scatter chart
ax = fig.add_axes(px_rect(398, 1609, 1328, 657), zorder=2)
ax.set_facecolor('#f1f1f3')
ax.set_xlim(-5.33, 3.70)
ax.set_ylim(-4.795, 4.47)
ax.set_xticks(x_ticks)
ax.set_yticks(y_ticks)
ax.set_xticks(np.arange(-5.25, 3.7, 0.25), minor=True)
ax.grid(True, which='major', color='#8c8c8c', linestyle=(0, (1, 1.2)), lw=1.3)
ax.set_axisbelow(True)
ax.tick_params(axis='both', which='major', labelsize=11.5, length=5, width=1, pad=13)
ax.tick_params(axis='x', which='minor', length=3, width=0.8, color='#666666')
ax.tick_params(axis='y', pad=4)
for lab in ax.get_xticklabels() + ax.get_yticklabels():
    lab.set_family('Liberation Sans')
ax.spines['top'].set_linewidth(1.2)
ax.spines['right'].set_linewidth(1.2)
ax.spines['left'].set_linewidth(1.6)
ax.spines['bottom'].set_linewidth(2.4)

ell = scaled(CIRCLE, 0.72, 1)
box = scaled(SQUARE, 0.72, 1)
tri = scaled(TRI, 0.76, 1)
tall_x = scaled(CROSS, 0.75, 1)
series = [(c_em_1, ell, 150, '#f00000', 'black', 1.1),
          (c_em_2, tri, 144, '#0a7a0a', 'black', 1.1),
          (c_em_3, box, 180, '#ffff00', 'black', 1.1),
          (c_em_4, PLUS, 150, 'none', '#1414e6', 1.8),
          (c_em_5, tall_x, 200, 'none', 'white', 1.8),
          (c_em_6, ell, 150, '#808080', 'black', 1.1),
          (c_em_7, tri, 135, '#ff00ff', 'black', 1.1),
          (c_em_8, box, 190, '#008080', 'black', 1.1),
          (c_em_9, PLUS, 170, 'none', '#000080', 2.0),
          (c_em_10, tall_x, 200, 'none', '#800000', 1.5)]
handles = []
for pts, marker, size, fc, ec, lw in series:
    xs, ys = zip(*pts)
    ax.scatter(xs, ys, s=size, marker=marker, facecolors=fc, edgecolors=ec, linewidths=lw, clip_on=True)
    narrow = scaled(marker, 0.55, 1)
    handles.append(Line2D([], [], linestyle='none', marker=narrow, markersize=10,
                          markerfacecolor=fc, markeredgecolor=ec, markeredgewidth=0.9))

leg = ax.legend(handles, legend_names, ncol=10, loc='center', bbox_to_anchor=(1096 / W, 1 - 2364 / H),
                bbox_transform=fig.transFigure, frameon=False, handlelength=0.8,
                handletextpad=0.15, columnspacing=1.12, borderpad=0, prop={'family': 'Liberation Sans', 'size': 11.5})

fig.savefig('out.png', dpi=100)
